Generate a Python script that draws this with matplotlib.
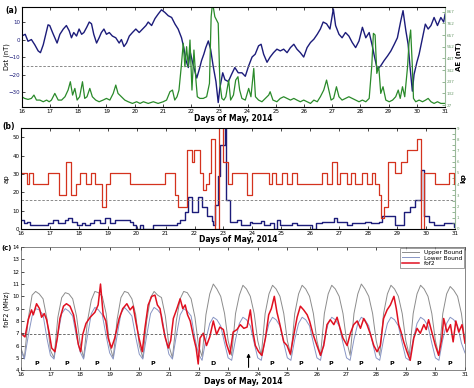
import matplotlib
matplotlib.use("Agg")
import matplotlib.pyplot as plt
import matplotlib.transforms as mtransforms
import numpy as np

# ---- panel (a): Dst and AE ----
dst_days = [16.0, 16.12, 16.22, 16.34, 16.46, 16.58, 16.66, 16.76, 16.85, 16.93, 16.99, 17.09, 17.17, 17.25,
            17.35, 17.47, 17.58, 17.68, 17.76, 17.84, 17.94, 18.03, 18.12, 18.2, 18.3, 18.39, 18.47, 18.55,
            18.65, 18.74, 18.82, 18.91, 19.0, 19.1, 19.21, 19.33, 19.45, 19.53, 19.62, 19.71, 19.81, 19.92,
            20.04, 20.16, 20.28, 20.4, 20.48, 20.6, 20.72, 20.83, 20.95, 21.07, 21.19, 21.31, 21.43, 21.54,
            21.66, 21.74, 21.82, 21.9, 21.96, 22.05, 22.13, 22.2, 22.29, 22.37, 22.45, 22.52, 22.61, 22.69,
            22.78, 22.88, 22.96, 23.02, 23.12, 23.2, 23.32, 23.43, 23.55, 23.67, 23.8, 23.92, 24.04, 24.16,
            24.27, 24.39, 24.48, 24.57, 24.69, 24.8, 24.92, 25.04, 25.16, 25.28, 25.4, 25.52, 25.64, 25.75,
            25.87, 25.99, 26.11, 26.23, 26.35, 26.47, 26.58, 26.68, 26.8, 26.92, 27.04, 27.12, 27.24, 27.35,
            27.47, 27.59, 27.71, 27.83, 27.95, 28.07, 28.19, 28.31, 28.42, 28.5, 28.6, 28.72, 28.84, 28.96,
            29.08, 29.2, 29.31, 29.43, 29.51, 29.61, 29.69, 29.76, 29.84, 29.9, 30.0, 30.08, 30.2, 30.3,
            30.4, 30.5, 30.61, 30.73, 30.85, 30.95, 31.0]
dst_vals = [2, 3, -1, 0, -3, -6.5, -7.5, -3, 3, 8.4, 8, 4, 1, -2,
            3, 6, 8, 5, 1, 4, 2, 6, 3, 4, 7, 10, 9, 3,
            -2, 1, 4, 6, 3, 4, 2, 1, -2, 0, -4, -2, 2, 4,
            6, 4, 6, 8, 10, 8, 12, 14.5, 17, 15.5, 13.6, 12.6, 8.8, 6,
            1, -4.6, -12, -16, -6.5, -13, -18, -22, -17, -12, -8.4, -4.6, -0.8, -5.5,
            -15, -24, -36, -27.5, -19, -23, -24, -20, -16, -19, -19, -21, -15, -10,
            -8.4, -3.6, -2.7, -8.4, -13, -10, -7.5, -5.5, -6.5, -5.5, -7.5, -4.6, -2.7, -5.5,
            -7.5, -10, -4.6, -1.7, 0.2, 3, 6, 10, 9, 6, 17.5, 8, 3, 1,
            4, 2, -1.7, -4.6, -0.8, 7, 1, 4, -3.6, -10, -17, -15, -12, -9.4,
            -6.5, -2.7, 1, 10.7, 16.5, 5, -2.7, -16, -29.5, -20, -13, -8.4, 1, 8.8,
            6, 8, 12.6, 8, 12.6, 10, 14.5]

ae_days = [16.0, 16.1, 16.22, 16.34, 16.43, 16.52, 16.64, 16.76, 16.88, 16.97, 17.05, 17.17, 17.29, 17.41,
           17.53, 17.64, 17.72, 17.8, 17.88, 17.96, 18.05, 18.15, 18.23, 18.31, 18.41, 18.5, 18.62, 18.74,
           18.88, 19.0, 19.12, 19.24, 19.33, 19.41, 19.53, 19.65, 19.77, 19.92, 20.07, 20.19, 20.31, 20.48,
           20.66, 20.83, 21.01, 21.13, 21.25, 21.34, 21.42, 21.5, 21.57, 21.65, 21.72, 21.78, 21.84, 21.9,
           21.96, 22.03, 22.1, 22.17, 22.22, 22.31, 22.43, 22.55, 22.65, 22.71, 22.76, 22.84, 22.9, 22.96,
           23.02, 23.09, 23.16, 23.23, 23.33, 23.4, 23.5, 23.58, 23.66, 23.72, 23.8, 23.92, 24.04, 24.12,
           24.22, 24.28, 24.39, 24.51, 24.63, 24.75, 24.8, 24.9, 25.04, 25.16, 25.28, 25.4, 25.52, 25.64,
           25.75, 25.87, 25.99, 26.11, 26.23, 26.35, 26.47, 26.58, 26.7, 26.8, 26.88, 26.96, 27.05, 27.15,
           27.24, 27.35, 27.47, 27.59, 27.71, 27.83, 27.95, 28.07, 28.19, 28.31, 28.4, 28.46, 28.52, 28.58,
           28.65, 28.72, 28.8, 28.9, 29.02, 29.14, 29.25, 29.34, 29.41, 29.49, 29.57, 29.67, 29.72, 29.78,
           29.84, 29.88, 29.96, 30.08, 30.2, 30.31, 30.4, 30.5, 30.61, 30.73, 30.85, 31.0]
ae_vals = [102, 87, 78, 87, 117, 72, 72, 57, 72, 57, 72, 132, 72, 72,
           102, 162, 237, 117, 177, 72, 102, 237, 87, 102, 177, 102, 72, 57,
           72, 87, 72, 132, 207, 132, 102, 72, 57, 42, 57, 42, 57, 42,
           57, 42, 57, 72, 147, 162, 72, 102, 162, 372, 582, 372, 552, 372,
           612, 162, 522, 252, 102, 87, 87, 102, 222, 822, 950, 822, 792, 762,
           222, 87, 72, 102, 252, 72, 117, 252, 282, 162, 87, 72, 177, 102,
           357, 102, 72, 57, 87, 117, 147, 72, 57, 87, 102, 87, 72, 87,
           72, 57, 72, 57, 42, 72, 57, 102, 162, 252, 162, 72, 87, 192,
           102, 72, 87, 102, 87, 72, 57, 72, 57, 87, 372, 672, 657, 312,
           372, 132, 192, 72, 57, 72, 102, 162, 87, 192, 102, 372, 582, 702,
           372, 87, 57, 72, 57, 72, 87, 57, 42, 57, 42, 42]
ae_ticks = [27, 132, 237, 342, 447, 552, 657, 762, 867]
dst_ticks = [-30, -20, -10, 0, 10]

# ---- panel (b): ap (left) and kp (right), 3-hourly steps ----
ap_days = [16.0, 16.1, 16.22, 16.33, 16.4, 16.94, 17.12, 17.29, 17.53, 17.64, 17.76, 17.94, 18.11, 18.23,
           18.39, 18.53, 18.73, 18.9, 19.08, 19.25, 19.6, 19.77, 19.88, 19.97, 20.1, 20.23, 20.57, 21.0,
           21.4, 21.5, 21.67, 21.79, 21.9, 22.13, 22.25, 22.42, 22.6, 22.65, 22.7, 22.82, 22.88, 23.05,
           23.1, 23.22, 23.45, 23.62, 23.9, 24.0, 24.28, 24.39, 24.62, 24.74, 24.85, 24.97, 25.37, 25.54,
           26.06, 26.18, 26.41, 26.81, 26.93, 27.27, 27.44, 27.67, 27.9, 28.08, 28.37, 28.48, 28.94, 29.23,
           29.46, 29.63, 29.81, 29.92, 30.1, 30.27, 30.61, 30.96]
ap_vals = [5, 3, 4, 2, 2, 3, 5, 3, 5, 6, 4, 2, 3, 2,
           3, 5, 3, 6, 3, 5, 5, 4, 2, 0, 2, 0, 2, 2,
           3, 5, 9, 17.6, 9, 17.6, 12, 7, 4.4, 2, 13, 29, 46, 80,
           16, 4, 5, 2, 4, 3, 4.5, 2, 3, 0, 5, 2, 3, 2,
           0, 3, 4, 6, 4, 2, 3.5, 3, 4, 3, 4, 7, 2, 9,
           12, 16, 32, 7, 4, 2, 3, 1]

kp_days = [16.0, 16.2, 16.29, 16.43, 16.94, 17.32, 17.56, 17.72, 17.9, 18.04, 18.25, 18.41, 18.56, 18.79,
           18.94, 19.08, 19.77, 20.98, 21.32, 21.44, 21.73, 21.9, 21.98, 22.18, 22.3, 22.38, 22.5, 22.57,
           22.72, 22.84, 22.97, 23.17, 23.28, 23.45, 23.82, 23.99, 24.56, 24.68, 24.83, 25.03, 25.2, 25.37,
           25.54, 26.41, 26.56, 26.75, 26.93, 27.04, 27.27, 27.39, 27.56, 27.79, 27.96, 28.14, 28.25, 28.37,
           28.45, 28.56, 28.68, 28.94, 29.12, 29.35, 29.69, 29.81, 29.92, 30.32, 30.79, 30.96]
kp_vals = [5, 4, 5, 4, 5, 3, 6, 3, 4, 5, 4, 5, 4, 2,
           4, 5, 4, 5, 3, 2, 7, 6, 7, 5, 3.5, 4, 5, 8,
           0, 9.5, 6, 4, 5, 5, 3, 5, 4, 5, 4, 5, 4, 5,
           4, 5, 4, 6, 4, 5, 4, 5, 4, 5, 4, 5, 4, 3,
           1, 2, 6, 5, 6, 7, 8, 0, 5, 4, 5, 4]

# ---- panel (c): foF2 with quiet-time bounds ----
bound_days = [16.0, 16.12, 16.25, 16.38, 16.5, 16.62, 16.75, 16.88,
              17.0, 17.12, 17.25, 17.38, 17.5, 17.62, 17.75, 17.88,
              18.0, 18.12, 18.25, 18.38, 18.5, 18.62, 18.75, 18.88,
              19.0, 19.12, 19.25, 19.38, 19.5, 19.62, 19.75, 19.88,
              20.0, 20.12, 20.25, 20.38, 20.5, 20.62, 20.75, 20.88,
              21.0, 21.12, 21.25, 21.38, 21.5, 21.62, 21.75, 21.88,
              22.0, 22.12, 22.25, 22.38, 22.5, 22.62, 22.75, 22.88,
              23.0, 23.12, 23.25, 23.38, 23.5, 23.62, 23.75, 23.88,
              24.0, 24.12, 24.25, 24.38, 24.5, 24.62, 24.75, 24.88,
              25.0, 25.12, 25.25, 25.38, 25.5, 25.62, 25.75, 25.88,
              26.0, 26.12, 26.25, 26.38, 26.5, 26.62, 26.75, 26.88,
              27.0, 27.12, 27.25, 27.38, 27.5, 27.62, 27.75, 27.88,
              28.0, 28.12, 28.25, 28.38, 28.5, 28.62, 28.75, 28.88,
              29.0, 29.12, 29.25, 29.38, 29.5, 29.62, 29.75, 29.88,
              30.0, 30.12, 30.25, 30.38, 30.5, 30.62, 30.75, 30.88, 31.0]
upper_vals = [5.8, 5.0, 8.2, 10.1, 10.4, 10.2, 9.8, 8.2,
              5.6, 5.0, 8.3, 9.9, 10.3, 10.2, 9.8, 8.4,
              6.2, 5.0, 8.0, 9.7, 10.4, 10.3, 10.0, 8.6,
              6.0, 5.0, 8.1, 9.9, 10.4, 10.3, 9.8, 8.5,
              6.0, 5.0, 8.0, 9.9, 10.4, 10.1, 9.9, 8.4,
              6.0, 5.0, 8.0, 9.8, 10.4, 10.3, 9.8, 8.3,
              6.0, 5.1, 8.5, 10.2, 11.0, 10.6, 10.0, 8.6,
              6.4, 5.2, 8.6, 10.1, 10.9, 10.6, 10.0, 8.6,
              6.4, 5.2, 8.6, 10.2, 10.9, 10.6, 10.0, 8.6,
              6.4, 5.2, 8.6, 10.2, 10.9, 10.6, 10.0, 8.6,
              6.4, 5.2, 8.6, 10.2, 10.9, 10.6, 10.0, 8.6,
              6.4, 5.2, 8.6, 10.2, 11.0, 10.6, 10.0, 8.6,
              6.4, 5.2, 8.6, 10.2, 10.9, 10.6, 10.0, 8.6,
              6.4, 5.2, 8.6, 10.2, 10.9, 10.6, 10.0, 8.6,
              6.4, 5.2, 8.6, 10.2, 10.8, 10.5, 10.0, 8.6, 6.3]
lower_vals = [5.6, 4.9, 6.8, 8.4, 9.0, 8.9, 8.5, 6.6,
              5.2, 4.9, 6.9, 8.6, 9.0, 8.8, 8.4, 6.7,
              5.5, 4.9, 6.8, 8.6, 9.1, 8.9, 8.5, 6.8,
              5.4, 4.9, 6.8, 8.6, 9.1, 8.8, 8.4, 6.7,
              5.3, 4.9, 6.8, 8.6, 9.1, 8.9, 8.5, 6.7,
              5.3, 4.9, 6.8, 8.5, 9.0, 8.8, 8.4, 6.6,
              5.3, 4.8, 6.5, 7.8, 8.3, 8.1, 7.6, 6.2,
              5.0, 4.8, 6.5, 7.8, 8.3, 8.1, 7.6, 6.2,
              5.0, 4.8, 6.5, 7.8, 8.3, 8.1, 7.6, 6.2,
              5.0, 4.8, 6.5, 7.8, 8.3, 8.1, 7.6, 6.2,
              5.0, 4.8, 6.5, 7.8, 8.3, 8.1, 7.6, 6.2,
              5.0, 4.8, 6.5, 7.8, 8.3, 8.1, 7.6, 6.2,
              5.0, 4.8, 6.5, 7.8, 8.3, 8.1, 7.6, 6.2,
              5.0, 4.8, 6.5, 7.8, 8.3, 8.1, 7.6, 6.2,
              5.0, 4.8, 6.5, 7.8, 8.3, 8.1, 7.6, 6.2, 5.4]

fof2_days = [16.0, 16.14, 16.25, 16.36, 16.42, 16.53, 16.63, 16.7, 16.79, 16.87, 16.96, 17.04, 17.15, 17.23,
             17.32, 17.44, 17.54, 17.66, 17.78, 17.86, 17.94, 18.02, 18.09, 18.2, 18.34, 18.5, 18.61, 18.69,
             18.78, 18.87, 18.95, 19.06, 19.17, 19.32, 19.44, 19.58, 19.69, 19.79, 19.88, 19.99, 20.1, 20.19,
             20.3, 20.42, 20.53, 20.61, 20.7, 20.79, 20.87, 20.98, 21.06, 21.15, 21.27, 21.38, 21.47, 21.55,
             21.63, 21.72, 21.84, 21.92, 21.99, 22.05, 22.16, 22.27, 22.38, 22.5, 22.61, 22.72, 22.84, 22.95,
             23.06, 23.17, 23.3, 23.41, 23.53, 23.64, 23.75, 23.84, 23.92, 24.03, 24.14, 24.26, 24.37, 24.46,
             24.56, 24.65, 24.74, 24.88, 24.99, 25.1, 25.22, 25.33, 25.44, 25.55, 25.67, 25.75, 25.87, 26.0,
             26.12, 26.23, 26.34, 26.45, 26.57, 26.68, 26.77, 26.88, 27.02, 27.13, 27.24, 27.36, 27.47, 27.58,
             27.69, 27.81, 27.92, 28.03, 28.14, 28.25, 28.37, 28.48, 28.6, 28.68, 28.76, 28.84, 28.93, 29.04,
             29.15, 29.27, 29.38, 29.49, 29.61, 29.69, 29.77, 29.88, 30.0, 30.11, 30.22, 30.28, 30.39, 30.51,
             30.6, 30.69, 30.79, 30.9, 31.0]
fof2_vals = [7.0, 6.7, 8.1, 8.9, 8.5, 9.4, 9.0, 8.3, 8.6, 8.1, 7.0, 5.8, 5.5, 6.6,
             8.2, 9.2, 9.4, 9.2, 8.5, 7.4, 6.1, 5.5, 6.9, 7.8, 8.3, 8.7, 9.3, 11.0,
             8.5, 8.0, 6.6, 5.8, 6.6, 8.2, 9.0, 9.4, 8.9, 9.2, 8.0, 6.6, 5.5, 7.4,
             9.3, 10.0, 10.1, 9.3, 9.0, 7.7, 6.7, 5.8, 6.4, 8.2, 9.0, 9.8, 9.0, 9.3,
             8.5, 8.0, 6.6, 5.8, 4.5, 6.6, 7.0, 6.0, 6.7, 8.0, 6.9, 7.5, 7.3, 6.1,
             5.3, 7.1, 7.3, 7.7, 7.4, 7.5, 8.9, 7.1, 6.0, 5.5, 5.2, 6.6, 8.5, 9.0,
             10.0, 8.7, 7.8, 6.3, 6.0, 5.3, 6.9, 8.3, 9.2, 8.9, 8.5, 8.0, 6.9, 6.0,
             5.2, 6.0, 7.7, 8.1, 7.7, 8.3, 7.5, 6.6, 6.0, 7.0, 7.7, 8.0, 7.4, 8.2,
             7.7, 6.9, 6.0, 5.5, 6.0, 8.2, 8.9, 9.3, 10.0, 9.0, 7.7, 7.1, 6.3, 5.5,
             4.8, 6.6, 7.4, 7.0, 7.7, 7.3, 8.1, 7.1, 6.0, 5.2, 6.6, 8.2, 7.1, 7.7,
             6.3, 8.0, 7.1, 7.7, 6.2]

p_days = [16.53, 17.54, 18.56, 20.45, 24.48, 25.44, 26.45, 27.49, 28.54, 29.44, 30.47]
d_days = [22.5]
arrow_day = 23.69

days_ticks = np.arange(16, 32)

fig = plt.figure(figsize=(4.74, 3.88), dpi=100)
plt.rcParams['font.size'] = 4.5

navy = '#1c1c7a'
green = '#2a8a2a'
red = '#d4321e'


def style_x(ax):
    ax.set_xlim(16, 31)
    ax.set_xticks(days_ticks)
    ax.tick_params(axis='both', direction='in', length=2, width=0.5, labelsize=4.0, pad=1.2)
    ax.tick_params(axis='x', top=True)
    for s in ax.spines.values():
        s.set_linewidth(0.5)
        s.set_color('#555555')
    ax.set_xlabel('Days of May, 2014', fontsize=5.5, fontweight='bold', labelpad=1)
    # y label placed at a fixed pixel column of the figure
    trans = mtransforms.blended_transform_factory(fig.transFigure, ax.transAxes)
    ax.yaxis.set_label_coords(9.5 / 474, 0.5, transform=trans)


# panel (a)
ax1 = fig.add_axes([0.046, 0.724, 0.893, 0.258])
ax1.plot(dst_days, dst_vals, color=navy, lw=1.0)
ax1.axhline(-15, color='#777777', ls='--', lw=0.6, dashes=(3, 2))
ax1.set_ylim(-38.6, 18.6)
ax1.set_yticks(dst_ticks)
ax1.set_ylabel('Dst (nT)', fontsize=4.8)
style_x(ax1)
ax1.tick_params(axis='y', labelcolor=navy)
ax1.xaxis.set_label_coords(0.5, -0.07)
ax1r = ax1.twinx()
ax1r.plot(ae_days, ae_vals, color=green, lw=0.9)
ax1r.set_ylim(9, 909)
ax1r.set_yticks(ae_ticks)
ax1r.tick_params(direction='in', length=2, width=0.5, labelsize=3, labelcolor='#6a9a6a', colors='#6a9a6a', pad=1)
ax1r.spines['right'].set_color('#9ab89a')
ax1r.set_ylabel('AE (nT)', fontsize=5, fontweight='bold', labelpad=1)
fig.text(0.012, 0.985, '(a)', fontsize=5.5, fontweight='bold', va='top')

# panel (b)
ax2 = fig.add_axes([0.044, 0.410, 0.916, 0.260])
ax2.step(ap_days + [31.0], ap_vals + [ap_vals[-1]], where='post', color=navy, lw=1.0)
ax2.axhline(16, color='#777777', ls='--', lw=0.6, dashes=(3, 2))
ax2.set_ylim(0, 55)
ax2.set_yticks([0, 10, 20, 30, 40, 50])
ax2.set_ylabel('ap', fontsize=5)
style_x(ax2)
ax2.xaxis.set_label_coords(0.5, -0.065)
ax2r = ax2.twinx()
ax2r.step(kp_days + [31.0], kp_vals + [kp_vals[-1]], where='post', color=red, lw=0.9)
ax2r.set_ylim(0, 9)
ax2r.set_yticks(np.arange(0, 10))
ax2r.set_yticks(np.arange(0, 9, 0.5), minor=True)
ax2r.tick_params(which='both', direction='in', length=2, width=0.5, labelsize=2.8, labelcolor='#6a9a6a',
                 colors='#6a9a6a', pad=1)
ax2r.spines['right'].set_color('#9ab89a')
ax2r.set_ylabel('kp', fontsize=5, fontweight='bold', labelpad=1)
fig.text(0.006, 0.685, '(b)', fontsize=5.5, fontweight='bold', va='top')

# panel (c)
ax3 = fig.add_axes([0.044, 0.046, 0.937, 0.317])
ax3.plot(bound_days, upper_vals, color='#8c8c8c', lw=0.7, label='Upper Bound')
ax3.plot(bound_days, lower_vals, color='#8895c4', lw=0.7, label='Lower Bound')
ax3.plot(fof2_days, fof2_vals, color='#e01020', lw=1.1, label='fof2')
ax3.axhline(6.9, color='#555555', ls='--', lw=0.6, dashes=(3, 2))
ax3.set_ylim(4, 14)
ax3.set_yticks(np.arange(4, 15))
ax3.set_ylabel('foF2 (MHz)', fontsize=4.8)
style_x(ax3)
ax3.xaxis.set_label_coords(0.5, -0.055)
for d in p_days:
    ax3.text(d, 4.55, 'P', fontsize=4.5, fontweight='bold', ha='center', va='center')
for d in d_days:
    ax3.text(d, 4.55, 'D', fontsize=4.5, fontweight='bold', ha='center', va='center')
ax3.annotate('', xy=(arrow_day, 5.6), xytext=(arrow_day, 4.0),
             arrowprops=dict(arrowstyle='-|>', color='black', lw=0.8, mutation_scale=5))
leg = ax3.legend(loc='upper right', fontsize=4.2, frameon=True, fancybox=False, borderpad=0.3,
                 handlelength=3, labelspacing=0.15, borderaxespad=0.1)
leg.get_frame().set_linewidth(0.5)
leg.get_frame().set_edgecolor('#555555')
fig.text(0.002, 0.368, '(c)', fontsize=5, fontweight='bold', va='top')

fig.savefig('out.png', dpi=100)
